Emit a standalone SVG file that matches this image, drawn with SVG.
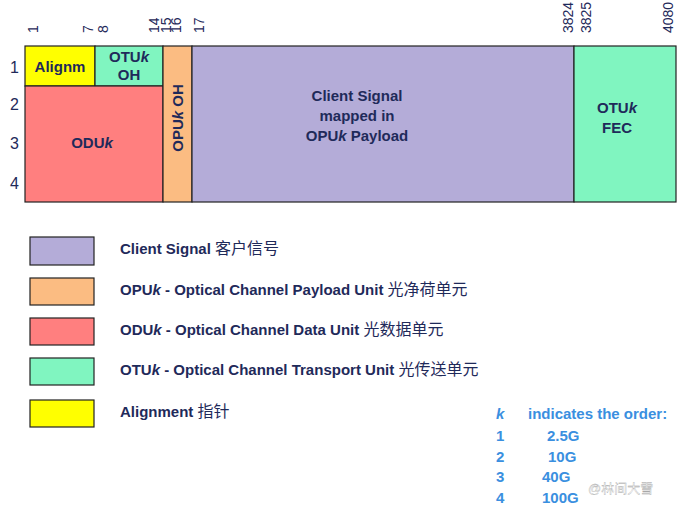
<svg xmlns="http://www.w3.org/2000/svg" width="692" height="506" viewBox="0 0 692 506">
<style>
.t{font-family:"Liberation Sans",Arial,sans-serif;font-weight:bold;fill:#1f2a5a;font-size:15px}
.c{font-family:"Noto Sans CJK SC",sans-serif;font-weight:normal;font-size:16px}
.n{font-family:"Liberation Sans",Arial,sans-serif;fill:#1f2a5a;font-size:14px}
.r{font-family:"Liberation Sans",Arial,sans-serif;fill:#1f2a5a;font-size:16px}
.b{font-family:"Liberation Sans",Arial,sans-serif;font-weight:bold;fill:#3a8fe0;font-size:15px}
.s{stroke:#222;stroke-width:1.2}
</style>
<rect width="692" height="506" fill="#fff"/>
<g id="frame">
<g id="align"><rect class="s" x="25" y="46" width="70" height="40" fill="#ffff00"/><text class="t" x="60" y="72" text-anchor="middle">Alignm</text></g>
<g id="otuoh"><rect class="s" x="95" y="46" width="68" height="40" fill="#80f5c0"/><text class="t" x="129" y="62" text-anchor="middle">OTU<tspan font-style="italic">k</tspan></text><text class="t" x="129" y="80" text-anchor="middle">OH</text></g>
<g id="oduk"><rect class="s" x="25" y="86" width="138" height="116" fill="#ff7f7f"/><text class="t" x="92" y="148" text-anchor="middle">ODU<tspan font-style="italic">k</tspan></text></g>
<g id="opuoh"><rect class="s" x="163" y="46" width="29" height="156" fill="#fbbc82"/><text class="t" transform="translate(183,118) rotate(-90)" text-anchor="middle">OPU<tspan font-style="italic">k</tspan> OH</text></g>
<g id="client"><rect class="s" x="192" y="46" width="382" height="156" fill="#b4acd8"/><text class="t" x="357" y="101" text-anchor="middle">Client Signal</text><text class="t" x="357" y="121" text-anchor="middle">mapped in</text><text class="t" x="357" y="141" text-anchor="middle">OPU<tspan font-style="italic">k</tspan>  Payload</text></g>
<g id="fec"><rect class="s" x="574" y="46" width="102" height="156" fill="#80f5c0"/><text class="t" x="617" y="113" text-anchor="middle">OTU<tspan font-style="italic">k</tspan></text><text class="t" x="617" y="133" text-anchor="middle">FEC</text></g>
</g>
<g id="labels">
<text class="n" transform="translate(38,33) rotate(-90)">1</text>
<text class="n" transform="translate(93,33) rotate(-90)">7</text>
<text class="n" transform="translate(108,33) rotate(-90)">8</text>
<text class="n" transform="translate(159,33) rotate(-90)">14</text>
<text class="n" transform="translate(171,33) rotate(-90)">15</text>
<text class="n" transform="translate(181,33) rotate(-90)">16</text>
<text class="n" transform="translate(204,33) rotate(-90)">17</text>
<text class="n" transform="translate(573,33) rotate(-90)">3824</text>
<text class="n" transform="translate(591,33) rotate(-90)">3825</text>
<text class="n" transform="translate(673,33) rotate(-90)">4080</text>
<text class="r" x="10" y="73">1</text>
<text class="r" x="10" y="110">2</text>
<text class="r" x="10" y="149">3</text>
<text class="r" x="10" y="189">4</text>
</g>
<g id="legend">
<rect class="s" x="30" y="237" width="64" height="28" fill="#b4acd8"/>
<rect class="s" x="30" y="278" width="64" height="27" fill="#fbbc82"/>
<rect class="s" x="30" y="318" width="64" height="27" fill="#ff7f7f"/>
<rect class="s" x="30" y="358" width="64" height="27" fill="#80f5c0"/>
<rect class="s" x="30" y="400" width="64" height="27" fill="#ffff00"/>
<text class="t" x="120" y="254">Client Signal <tspan class="c">客户信号</tspan></text>
<text class="t" x="120" y="295">OPU<tspan font-style="italic">k</tspan> - Optical Channel Payload Unit <tspan class="c">光净荷单元</tspan></text>
<text class="t" x="120" y="335">ODU<tspan font-style="italic">k</tspan> - Optical Channel Data Unit  <tspan class="c">光数据单元</tspan></text>
<text class="t" x="120" y="375">OTU<tspan font-style="italic">k</tspan> - Optical Channel Transport Unit  <tspan class="c">光传送单元</tspan></text>
<text class="t" x="120" y="417">Alignment <tspan class="c">指针</tspan></text>
</g>
<g id="order">
<text class="b" x="496" y="419" font-style="italic">k</text>
<text class="b" x="528" y="419">indicates the order:</text>
<text class="b" x="496" y="441">1</text><text class="b" x="547" y="441">2.5G</text>
<text class="b" x="496" y="462">2</text><text class="b" x="548" y="462">10G</text>
<text class="b" x="496" y="482">3</text><text class="b" x="542" y="482">40G</text>
<text class="b" x="496" y="503">4</text><text class="b" x="542" y="503">100G</text>
<text x="588" y="493" font-family="Liberation Sans,Noto Sans CJK SC,sans-serif" font-size="13" fill="#ffffff" fill-opacity="0.85" stroke="#999" stroke-width="0.3">@林间大雪</text>
</g>
</svg>
